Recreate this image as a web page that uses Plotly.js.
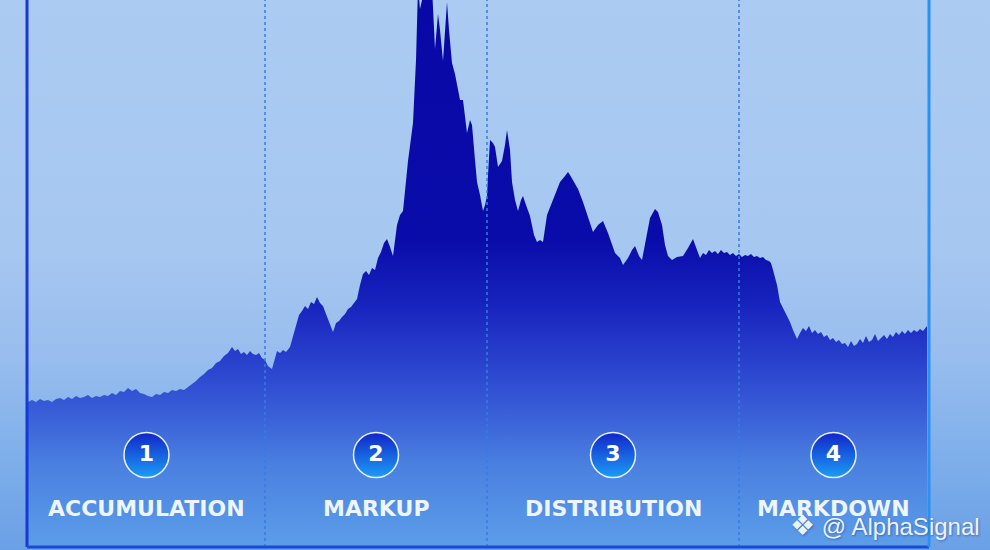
<!DOCTYPE html>
<html>
<head>
<meta charset="utf-8">
<script src="https://cdn.plot.ly/plotly-3.0.1.min.js"></script>
<style>
  html, body { margin: 0; padding: 0; width: 990px; height: 550px; overflow: hidden; }
  body { background: linear-gradient(to bottom, #abcbf2 0%, #a6c7f0 45%, #98bdee 65%, #80b0ea 82%, #6aa0e6 100%); }
  #chart { width: 990px; height: 550px; }
</style>
</head>
<body>
<div id="chart"></div>
<script>
// ---- data (time index, price level) ----
const day = [28,32,36,40,44,48,52,56,60,64,68,72,76,80,84,88,92,96,100,104,108,112,116,120,124,128,132,136,140,144,148,152,156,160,164,168,172,176,180,184,188,192,196,200,204,208,212,216,220,224,228,232,235,238,241,244,247,250,253,256,259,262,265,268,272,
  277,280,283,286,290,293,296,299,302,305,308,311,314,317,320,323,326,329,333,336,339,342,345,348,351,354,357,360,363,366,369,372,375,378,381,384,387,390,393,
  397,400,403,408,413,416,418,420,425,428,432,435,438,440,443,446,447,449,452,455,458,460,463,467,470,472,475,477,480,483,485,487,
  488,490,493,495,498,502,505,507,510,512,515,518,521,523,526,530,534,537,540,543,547,550,555,560,565,568,570,574,578,583,588,593,598,603,608,612,615,620,623,628,632,635,639,642,646,650,655,658,662,665,668,672,677,683,688,693,697,
  700,703,706,709,712,715,718,721,724,727,730,733,736,739,742,745,748,751,754,757,760,763,766,769,771,773,777,780,784,787,790,793,
  797,800,803,806,809,812,815,818,821,824,827,830,833,836,839,842,845,848,851,854,857,860,863,866,869,872,875,878,881,884,887,890,893,896,899,902,905,908,911,914,917,920,923,927];
const price = [145,147,145,148,146,147,145,148,149,147,150,148,151,149,150,152,149,151,150,152,151,154,152,156,155,159,156,158,154,153,151,150,153,152,155,154,157,156,158,157,160,163,166,170,173,177,179,184,186,191,194,200,196,198,193,195,192,196,193,192,194,189,187,181,178,
  196,194,197,195,200,210,220,232,236,241,238,245,243,250,244,241,233,226,215,224,226,230,233,238,240,244,248,262,273,276,272,279,277,289,295,304,308,300,291,
  322,332,336,386,424,487,560,538,560,565,560,498,533,517,486,527,545,517,484,473,459,447,447,414,427,422,387,365,352,336,342,351,
  372,407,404,400,380,386,402,417,397,365,347,336,347,351,342,331,312,305,307,305,332,340,352,365,371,375,372,365,358,345,329,315,322,326,314,302,294,289,282,289,297,301,291,287,307,329,338,335,322,302,291,287,290,291,299,308,297,
  289,294,292,297,294,296,293,297,294,295,292,294,291,293,290,292,291,293,290,291,289,290,287,286,284,277,262,245,237,231,225,217,
  208,214,219,216,221,214,217,213,215,210,212,207,209,205,207,203,204,200,206,201,203,208,204,211,205,207,213,206,209,212,208,213,210,215,212,216,213,217,214,217,215,218,216,221];
const phases = ['ACCUMULATION', 'MARKUP', 'DISTRIBUTION', 'MARKDOWN'];
const phaseNumbers = ['1', '2', '3', '4'];
const phaseBounds = [28, 265, 487, 739, 928];

// ---- derived ----
const centers = phases.map((p, i) => (phaseBounds[i] + phaseBounds[i + 1]) / 2);
const BADGE_Y = 92;   // vertical placement of the numbered badges (axis units)
const LABEL_Y = 39;   // vertical placement of the phase names (axis units)

const area = {
  x: day, y: price, type: 'scatter', mode: 'lines',
  line: { width: 0, color: '#0808a6' },
  fill: 'tozeroy',
  fillgradient: {
    type: 'vertical', start: 0, stop: 547,
    colorscale: [[0, '#5c9ee9'], [0.15, '#4a80e0'], [0.24, '#3a60d8'], [0.33, '#2a44ce'],
                 [0.44, '#1824be'], [0.56, '#0a0caa'], [1, '#0808a6']]
  },
  hoverinfo: 'skip', showlegend: false
};

const badges = {
  x: centers, y: centers.map(() => BADGE_Y), type: 'scatter', mode: 'markers+text',
  text: phaseNumbers, textposition: 'middle center',
  textfont: { family: 'DejaVu Sans', size: 22, color: '#ffffff', weight: 'bold' },
  marker: { size: 45, color: '#1226c8', gradient: { type: 'vertical', color: '#1c9cf6' },
            line: { color: '#e8f2ff', width: 1.5 } },
  cliponaxis: false, hoverinfo: 'skip', showlegend: false
};

const shapes = [];
for (let i = 1; i < phaseBounds.length - 1; i++) {
  shapes.push({ type: 'line', xref: 'x', yref: 'paper', x0: phaseBounds[i], x1: phaseBounds[i], y0: 0, y1: 1,
                line: { color: '#3a7ae6', width: 1.5, dash: 'dot' }, layer: 'above' });
}
shapes.push({ type: 'line', xref: 'paper', yref: 'paper', x0: 0, x1: 0, y0: 0, y1: 1.01, line: { color: '#1838d8', width: 3 }, layer: 'above' });
shapes.push({ type: 'line', xref: 'paper', yref: 'paper', x0: 0, x1: 1, y0: 0, y1: 0, line: { color: '#1c4ad8', width: 3 }, layer: 'above' });
shapes.push({ type: 'line', xref: 'paper', yref: 'paper', x0: 1, x1: 1, y0: 0, y1: 1.01, line: { color: '#2a90f2', width: 3 }, layer: 'above' });

const annotations = phases.map((p, i) => ({
  x: centers[i], y: LABEL_Y, xref: 'x', yref: 'y', text: p, showarrow: false,
  font: { family: 'DejaVu Sans', size: 22, color: '#eef5ff', weight: 'bold' },
  xanchor: 'center', yanchor: 'middle'
}));
annotations.push({
  xref: 'paper', yref: 'paper', x: 1.0588, y: 0.040, xanchor: 'right', yanchor: 'middle',
  text: '<span style="font-family:DejaVu Sans;font-size:28px">❖</span> @ AlphaSignal', showarrow: false,
  font: { family: 'Liberation Sans', size: 24, color: 'rgba(255,255,255,0.92)', shadow: '1px 1px 2px rgba(20,40,120,0.45)' }
});

const layout = {
  width: 990, height: 550,
  margin: { l: 27, r: 61, t: 0, b: 3, pad: 0 },
  paper_bgcolor: 'rgba(0,0,0,0)', plot_bgcolor: 'rgba(0,0,0,0)',
  xaxis: { range: [27, 929], visible: false, fixedrange: true },
  yaxis: { range: [0, 547], visible: false, fixedrange: true },
  showlegend: false, hovermode: false,
  shapes: shapes, annotations: annotations
};

Plotly.newPlot('chart', [area, badges], layout, { staticPlot: true, displayModeBar: false });
</script>
</body>
</html>
